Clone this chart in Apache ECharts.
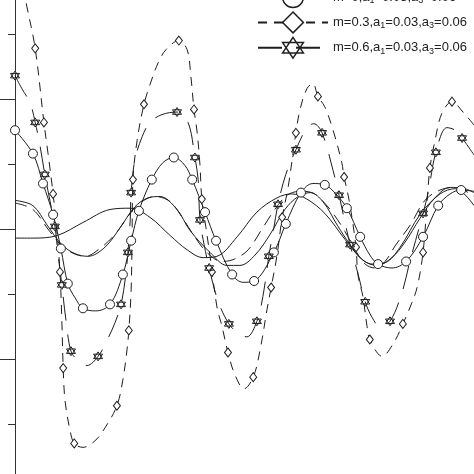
<!DOCTYPE html>
<html><head><meta charset="utf-8">
<script src="https://cdn.jsdelivr.net/npm/echarts@6/dist/echarts.min.js"></script>
<style>html,body{margin:0;padding:0;background:#fff}#c{width:474px;height:474px}</style>
</head><body><div id="c"></div>
<script>
const seriesNames = ['m=0,a1=0.03,a3=0.06', 'm=0.3,a1=0.03,a3=0.06', 'm=0.6,a1=0.03,a3=0.06'];
const yRange = [-1.885, 1.762];
const yMajorTicks = [-1, 0, 1];
const yMinorTicks = [-1.5, -0.5, 0.5, 1.5];
const xRange = [0, 10];

// m=0 curve (solid) and its circle markers
const curveA = [[0,0.76],[0.39,0.58],[0.61,0.35],[0.83,0.11],[1.00,-0.15],[1.15,-0.42],[1.31,-0.53],[1.48,-0.61],[1.76,-0.63],[2.07,-0.58],[2.35,-0.35],[2.53,-0.09],[2.70,0.14],[2.98,0.38],[3.22,0.51],[3.46,0.55],[3.70,0.49],[3.86,0.38],[4.14,0.13],[4.38,-0.09],[4.73,-0.35],[4.97,-0.41],[5.21,-0.40],[5.64,-0.18],[5.90,0.04],[6.23,0.28],[6.49,0.35],[6.75,0.34],[6.99,0.27],[7.23,0.16],[7.52,-0.06],[7.73,-0.20],[7.91,-0.27],[8.21,-0.30],[8.52,-0.25],[8.89,-0.06],[9.22,0.18],[9.48,0.27],[9.72,0.30],[10,0.29]];
const markA = [[0,0.76],[0.39,0.58],[0.61,0.35],[0.83,0.11],[1.00,-0.15],[1.15,-0.42],[1.48,-0.61],[2.07,-0.58],[2.35,-0.35],[2.53,-0.09],[2.70,0.14],[2.98,0.38],[3.46,0.55],[3.86,0.38],[4.14,0.13],[4.38,-0.09],[4.73,-0.35],[5.21,-0.40],[5.64,-0.18],[5.90,0.04],[6.23,0.28],[6.75,0.34],[7.23,0.16],[7.52,-0.06],[7.91,-0.27],[8.52,-0.25],[8.89,-0.06],[9.22,0.18],[9.72,0.30]];

// m=0.3 curve (dashed) and its diamond markers
const curveB = [[0,2.22],[0.13,1.95],[0.26,1.71],[0.44,1.39],[0.63,0.82],[0.72,0.58],[0.83,0.27],[0.92,-0.05],[0.98,-0.33],[1.02,-0.70],[1.05,-1.07],[1.09,-1.32],[1.20,-1.55],[1.29,-1.65],[1.48,-1.68],[1.74,-1.63],[1.96,-1.53],[2.22,-1.36],[2.35,-1.16],[2.44,-0.93],[2.48,-0.78],[2.53,-0.47],[2.55,-0.08],[2.57,0.38],[2.66,0.68],[2.81,0.96],[2.94,1.11],[3.12,1.28],[3.29,1.38],[3.57,1.45],[3.75,1.38],[3.83,1.18],[3.90,0.92],[3.97,0.74],[4.03,0.49],[4.07,0.23],[4.16,0.01],[4.25,-0.21],[4.40,-0.60],[4.51,-0.75],[4.64,-0.95],[4.79,-1.12],[4.99,-1.23],[5.19,-1.14],[5.34,-0.93],[5.49,-0.62],[5.58,-0.45],[5.71,-0.20],[5.82,0.09],[5.95,0.32],[6.12,0.74],[6.21,0.92],[6.36,1.08],[6.49,1.12],[6.60,1.02],[6.75,0.94],[6.93,0.76],[7.12,0.51],[7.17,0.40],[7.28,0.22],[7.43,-0.14],[7.47,-0.35],[7.58,-0.52],[7.67,-0.75],[7.73,-0.85],[8.00,-0.98],[8.26,-0.87],[8.45,-0.73],[8.61,-0.60],[8.76,-0.45],[8.89,-0.18],[8.98,0.22],[9.04,0.47],[9.15,0.68],[9.30,0.89],[9.52,0.98],[9.76,0.90],[10,0.80]];
const markB = [[0.44,1.39],[0.63,0.82],[0.83,0.27],[0.98,-0.33],[1.05,-1.07],[1.29,-1.65],[2.22,-1.36],[2.48,-0.78],[2.57,0.38],[2.81,0.96],[3.57,1.45],[3.90,0.92],[4.07,0.23],[4.29,-0.33],[4.64,-0.95],[5.19,-1.14],[5.58,-0.45],[5.82,0.09],[6.12,0.74],[6.60,1.02],[7.17,0.40],[7.43,-0.14],[7.73,-0.85],[8.45,-0.73],[8.89,-0.18],[9.04,0.47],[9.52,0.98]];

// m=0.6 curve (long dash) and its star markers
const curveC = [[0,1.18],[0.15,1.08],[0.33,0.97],[0.44,0.82],[0.54,0.65],[0.65,0.42],[0.76,0.22],[0.87,0.02],[0.94,-0.20],[1.02,-0.43],[1.11,-0.70],[1.22,-0.94],[1.37,-1.01],[1.57,-1.05],[1.81,-0.98],[2.00,-0.86],[2.18,-0.72],[2.31,-0.58],[2.40,-0.39],[2.46,-0.18],[2.51,0.07],[2.53,0.28],[2.61,0.53],[2.77,0.71],[2.94,0.82],[3.20,0.88],[3.53,0.90],[3.77,0.82],[3.92,0.55],[3.99,0.38],[4.03,0.07],[4.12,-0.12],[4.23,-0.30],[4.42,-0.55],[4.66,-0.73],[4.86,-0.80],[5.05,-0.83],[5.27,-0.71],[5.40,-0.52],[5.53,-0.21],[5.64,0.01],[5.73,0.19],[5.90,0.42],[6.12,0.61],[6.36,0.78],[6.51,0.81],[6.69,0.74],[6.93,0.45],[7.06,0.26],[7.19,0.05],[7.30,-0.12],[7.47,-0.34],[7.63,-0.56],[7.78,-0.68],[7.95,-0.75],[8.17,-0.71],[8.43,-0.49],[8.61,-0.24],[8.89,0.12],[9.00,0.28],[9.17,0.59],[9.41,0.78],[9.59,0.76],[9.74,0.70],[10,0.57]];
const markC = [[0,1.18],[0.44,0.82],[0.65,0.42],[0.87,0.02],[1.02,-0.43],[1.22,-0.94],[1.81,-0.98],[2.31,-0.58],[2.46,-0.18],[2.53,0.28],[3.53,0.90],[3.92,0.55],[4.03,0.07],[4.23,-0.30],[4.66,-0.73],[5.27,-0.71],[5.53,-0.21],[5.73,0.19],[6.12,0.61],[6.69,0.74],[7.06,0.26],[7.30,-0.12],[7.63,-0.56],[8.17,-0.71],[8.89,0.12],[9.17,0.59],[9.74,0.70]];

// unmarked reference curves
const curveD = [[0,-0.07],[0.39,-0.07],[0.92,-0.05],[1.48,0.05],[2.07,0.15],[2.51,0.16],[2.94,0.09],[3.38,-0.05],[3.75,-0.16],[4.10,-0.22],[4.40,-0.21],[4.84,-0.06],[5.27,0.13],[5.71,0.24],[6.03,0.27],[6.36,0.23],[6.75,0.12],[7.19,-0.08],[7.52,-0.22],[7.78,-0.27],[8.06,-0.26],[8.39,-0.14],[8.82,0.11],[9.26,0.27],[9.59,0.31],[10,0.18]];
const curveE = [[0,0.20],[0.39,0.15],[0.76,-0.02],[1.09,-0.15],[1.53,-0.21],[1.85,-0.15],[2.18,-0.04],[2.51,0.12],[2.72,0.20],[3.05,0.25],[3.38,0.21],[3.66,0.08],[3.86,-0.03],[4.18,-0.18],[4.51,-0.25],[4.79,-0.23],[5.08,-0.16],[5.40,0.01],[5.66,0.15],[5.93,0.26],[6.21,0.29],[6.47,0.28],[6.69,0.22],[6.93,0.12],[7.19,-0.02],[7.41,-0.16],[7.63,-0.27],[7.84,-0.30],[8.06,-0.25],[8.28,-0.13],[8.61,0.03],[8.93,0.22],[9.26,0.30],[9.59,0.32],[10,0.25]];
const curveF = [[0,0.22],[0.39,0.18],[0.70,0.03],[1.02,-0.12],[1.31,-0.19],[1.59,-0.21],[1.96,-0.14],[2.29,0.01],[2.61,0.17],[2.90,0.24],[3.16,0.25],[3.53,0.15],[3.81,-0.01],[4.25,-0.18],[4.62,-0.28],[4.90,-0.28],[5.23,-0.20],[5.56,-0.04],[5.88,0.15],[6.17,0.25],[6.43,0.28],[6.71,0.21],[7.02,0.03],[7.30,-0.12],[7.58,-0.24],[7.89,-0.28],[8.21,-0.22],[8.50,-0.10],[8.82,0.08],[9.15,0.24],[9.48,0.32],[9.80,0.31],[10,0.28]];

const INK = '#1e1e1e';
const STAR = 'path://M0,-10L8.66,5L-8.66,5Z M0,10L8.66,-5L-8.66,-5Z';
const FONT = 'Liberation Sans, Arial, sans-serif';

function plain(data, dash) {
  return { type: 'line', data: data, smooth: 0.35, showSymbol: false, symbol: 'none', silent: true,
    lineStyle: { color: INK, width: 1, type: dash || 'solid' }, z: 2 };
}
function curve(name, data, dash, symbol) {
  return { type: 'line', name: name, data: data, smooth: 0.35, showSymbol: false, symbol: symbol,
    lineStyle: { color: INK, width: 1, type: dash },
    itemStyle: { color: '#fff', borderColor: INK, borderWidth: 1.5 }, z: 3 };
}
function marks(name, data, symbol, size) {
  return { type: 'scatter', name: name, data: data, symbol: symbol, symbolSize: size,
    itemStyle: { color: '#fff', borderColor: INK, borderWidth: 1, opacity: 1 }, z: 5 };
}
function richName(n) {
  return '{n|' + n.replace(/a(\d)/g, 'a}{s|$1}{n|') + '}';
}
function yAxisOf(ticks, len, showLine) {
  return {
    type: 'value', min: yRange[0], max: yRange[1], position: 'left',
    axisLine: { show: showLine, onZero: false, lineStyle: { color: '#333', width: 1 } },
    axisTick: { show: true, customValues: ticks, length: len, lineStyle: { color: '#333', width: 1 } },
    axisLabel: { show: false }, splitLine: { show: false }
  };
}

const chart = echarts.init(document.getElementById('c'), null, { renderer: 'canvas' });
chart.setOption({
  animation: false,
  backgroundColor: '#fff',
  grid: { left: 15, right: 0, top: 0, bottom: 0, containLabel: false },
  xAxis: { type: 'value', min: xRange[0], max: xRange[1], show: false },
  yAxis: [yAxisOf(yMajorTicks, 15, true), yAxisOf(yMinorTicks, 7, false)],
  legend: {
    data: seriesNames, orient: 'vertical', left: 252, top: -19,
    itemWidth: 70, itemHeight: 26, itemGap: 3, align: 'left',
    itemStyle: { color: '#fff', borderColor: INK, borderWidth: 1.5 },
    formatter: richName,
    textStyle: {
      color: '#222', fontFamily: FONT, fontSize: 13,
      rich: {
        n: { fontSize: 13, lineHeight: 16, color: '#222', fontFamily: FONT },
        s: { fontSize: 9, lineHeight: 10, verticalAlign: 'bottom', color: '#222', fontFamily: FONT }
      }
    }
  },
  series: [
    plain(curveD, 'solid'),
    plain(curveF, 'solid'),
    plain(curveE, [12, 7]),
    curve(seriesNames[0], curveA, 'solid', 'circle'),
    curve(seriesNames[1], curveB, [9, 7], 'diamond'),
    curve(seriesNames[2], curveC, [24, 14], STAR),
    marks(seriesNames[0], markA, 'circle', 9),
    marks(seriesNames[1], markB, 'diamond', [7, 9]),
    marks(seriesNames[2], markC, STAR, 9)
  ]
});
</script>
</body></html>
